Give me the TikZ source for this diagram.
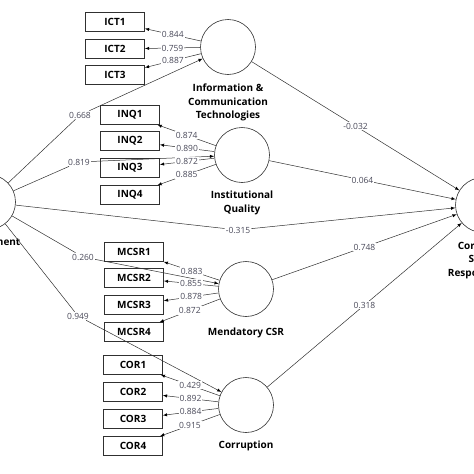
\documentclass[tikz,border=0pt]{standalone}
\usepackage{fontspec}
\setmainfont{Open Sans}
\usepackage{tikz}
\usetikzlibrary{arrows,positioning}
\definecolor{pathgray}{HTML}{303030}
\definecolor{coefgray}{HTML}{4A4A5A}
\tikzstyle{latent}=[circle,draw=pathgray,line width=0.6pt,minimum size=55pt,inner sep=0pt]
\tikzstyle{indicator}=[rectangle,draw=pathgray,line width=0.6pt,minimum width=59pt,
minimum height=19pt,inner sep=0pt,font=\bfseries\fontsize{10}{12}\selectfont]
\tikzstyle{lvname}=[align=center,inner sep=0pt,font=\bfseries\fontsize{10}{13.5}\selectfont]
\tikzstyle{coef}=[fill=white,inner sep=1pt,text=coefgray,font=\fontsize{8.5}{10}\selectfont]
\tikzstyle{link}=[->,draw=pathgray,line width=0.5pt]

\begin{document}
\begin{tikzpicture}[x=1pt,y=-1pt,>=latex]
    \useasboundingbox (0,0) rectangle (474,474);
    % Latent variables (circles), their names below them
    \node (env)  [latent] at (-12,202) {};
    \node (ict)  [latent] at (228,47)  {};
    \node (inq)  [latent] at (242,155) {};
    \node (mcsr) [latent] at (246,289) {};
    \node (cor)  [latent] at (246,405) {};
    \node (csr)  [latent] at (483,205) {};
    \node (env_name)  [lvname,below=8pt of env]  {Environment};
    \node (ict_name)  [lvname,below=9pt of ict]  {Information \&\\Communication\\Technologies};
    \node (inq_name)  [lvname,below=8pt of inq]  {Institutional\\Quality};
    \node (mcsr_name) [lvname,below=11pt of mcsr] {Mendatory CSR};
    \node (cor_name)  [lvname,below=8pt of cor]  {Corruption};
    \node (csr_name)  [lvname,below=9pt of csr]  {Corporate\\Social\\Responsibility};
    % Indicators (boxes)
    \node (ict1) [indicator] at (115,22) {ICT1};
    \node (ict2) [indicator] at (115,49) {ICT2};
    \node (ict3) [indicator] at (115,75) {ICT3};
    \node (inq1) [indicator] at (130,115) {INQ1};
    \node (inq2) [indicator] at (130,141) {INQ2};
    \node (inq3) [indicator] at (130,168) {INQ3};
    \node (inq4) [indicator] at (130,195) {INQ4};
    \node (mcsr1) [indicator] at (134,252) {MCSR1};
    \node (mcsr2) [indicator] at (134,278) {MCSR2};
    \node (mcsr3) [indicator] at (134,305) {MCSR3};
    \node (mcsr4) [indicator] at (134,332) {MCSR4};
    \node (cor1) [indicator] at (133,365) {COR1};
    \node (cor2) [indicator] at (133,392) {COR2};
    \node (cor3) [indicator] at (133,419) {COR3};
    \node (cor4) [indicator] at (133,446) {COR4};
    % Coefficients of the paths that leave Environment
    \node (c668) [coef] at (80,115) {0.668};
    \node (c819) [coef] at (79,162) {0.819};
    \node (c315) [coef] at (238,230) {-0.315};
    \node (c260) [coef] at (83,257) {0.260};
    \node (c949) [coef] at (78,316) {0.949};
    % Structural paths
    \path[link]
    (env) edge[-] (c668)
    (c668) edge (ict)
    (env) edge[-] (c819)
    (c819) edge (inq)
    (env) edge[-] (c315)
    (c315) edge (csr)
    (env) edge[-] (c260)
    (c260) edge (mcsr)
    (env) edge[-] (c949)
    (c949) edge (cor)

    (ict)  edge node[coef] {-0.032} (csr)
    (inq)  edge node[coef] {0.064} (csr)
    (mcsr) edge node[coef] {0.748} (csr)
    (cor)  edge node[coef] {0.318} (csr)
    ;
    % Outer loadings
    \path[link]
    (ict) edge node[coef] {0.844} (ict1)
    (ict) edge node[coef] {0.759} (ict2)
    (ict) edge node[coef] {0.887} (ict3)

    (inq) edge node[coef] {0.874} (inq1)
    (inq) edge node[coef] {0.890} (inq2)
    (inq) edge node[coef] {0.872} (inq3)
    (inq) edge node[coef] {0.885} (inq4)

    (mcsr) edge node[coef] {0.883} (mcsr1)
    (mcsr) edge node[coef] {0.855} (mcsr2)
    (mcsr) edge node[coef] {0.878} (mcsr3)
    (mcsr) edge node[coef] {0.872} (mcsr4)

    (cor) edge node[coef] {0.429} (cor1)
    (cor) edge node[coef] {0.892} (cor2)
    (cor) edge node[coef] {0.884} (cor3)
    (cor) edge node[coef] {0.915} (cor4)
    ;
\end{tikzpicture}
\end{document}
